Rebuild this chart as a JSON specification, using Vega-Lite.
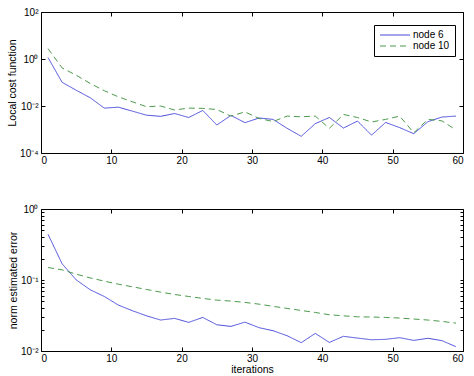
{
  "$schema": "https://vega.github.io/schema/vega-lite/v6.json",
  "padding": {"left": 7, "top": 6, "right": 5, "bottom": 2},
  "background": "white",
  "config": {
    "font": "Liberation Sans",
    "view": {"stroke": "black", "strokeWidth": 1},
    "axis": {"grid": false, "domain": false, "tickColor": "black", "tickSize": -4, "labelColor": "black", "labelFontSize": 10, "titleFontSize": 10.5, "titleFontWeight": "normal", "titleColor": "black", "labelFont": "Liberation Sans", "titleFont": "Liberation Sans"},
    "legend": {"strokeColor": "black", "fillColor": "white", "padding": 5, "labelFontSize": 10, "labelFont": "Liberation Sans", "symbolType": "M-1,0H6.5", "symbolSize": 64, "symbolStrokeWidth": 1.2, "rowPadding": 1, "labelOffset": 24}
  },
  "datasets": {
    "top": [
      {"iteration": 1, "node": "node 6", "value": 1.15},
      {"iteration": 3, "node": "node 6", "value": 0.102},
      {"iteration": 5, "node": "node 6", "value": 0.0468},
      {"iteration": 7, "node": "node 6", "value": 0.0224},
      {"iteration": 9, "node": "node 6", "value": 0.00813},
      {"iteration": 11, "node": "node 6", "value": 0.00891},
      {"iteration": 13, "node": "node 6", "value": 0.00603},
      {"iteration": 15, "node": "node 6", "value": 0.00407},
      {"iteration": 17, "node": "node 6", "value": 0.00363},
      {"iteration": 19, "node": "node 6", "value": 0.00479},
      {"iteration": 21, "node": "node 6", "value": 0.00324},
      {"iteration": 23, "node": "node 6", "value": 0.00646},
      {"iteration": 25, "node": "node 6", "value": 0.00155},
      {"iteration": 27, "node": "node 6", "value": 0.00398},
      {"iteration": 29, "node": "node 6", "value": 0.00195},
      {"iteration": 31, "node": "node 6", "value": 0.00309},
      {"iteration": 33, "node": "node 6", "value": 0.00269},
      {"iteration": 35, "node": "node 6", "value": 0.00112},
      {"iteration": 37, "node": "node 6", "value": 0.000513},
      {"iteration": 39, "node": "node 6", "value": 0.00178},
      {"iteration": 41, "node": "node 6", "value": 0.00324},
      {"iteration": 43, "node": "node 6", "value": 0.00115},
      {"iteration": 45, "node": "node 6", "value": 0.00229},
      {"iteration": 47, "node": "node 6", "value": 0.000575},
      {"iteration": 49, "node": "node 6", "value": 0.002},
      {"iteration": 51, "node": "node 6", "value": 0.0012},
      {"iteration": 53, "node": "node 6", "value": 0.000661},
      {"iteration": 55, "node": "node 6", "value": 0.00214},
      {"iteration": 57, "node": "node 6", "value": 0.00339},
      {"iteration": 59, "node": "node 6", "value": 0.00372},
      {"iteration": 1, "node": "node 10", "value": 2.75},
      {"iteration": 3, "node": "node 10", "value": 0.417},
      {"iteration": 5, "node": "node 10", "value": 0.204},
      {"iteration": 7, "node": "node 10", "value": 0.0912},
      {"iteration": 9, "node": "node 10", "value": 0.0447},
      {"iteration": 11, "node": "node 10", "value": 0.0245},
      {"iteration": 13, "node": "node 10", "value": 0.0151},
      {"iteration": 15, "node": "node 10", "value": 0.00933},
      {"iteration": 17, "node": "node 10", "value": 0.01},
      {"iteration": 19, "node": "node 10", "value": 0.00676},
      {"iteration": 21, "node": "node 10", "value": 0.00813},
      {"iteration": 23, "node": "node 10", "value": 0.00794},
      {"iteration": 25, "node": "node 10", "value": 0.00708},
      {"iteration": 27, "node": "node 10", "value": 0.00372},
      {"iteration": 29, "node": "node 10", "value": 0.00562},
      {"iteration": 31, "node": "node 10", "value": 0.00295},
      {"iteration": 33, "node": "node 10", "value": 0.00219},
      {"iteration": 35, "node": "node 10", "value": 0.00372},
      {"iteration": 37, "node": "node 10", "value": 0.00347},
      {"iteration": 39, "node": "node 10", "value": 0.00372},
      {"iteration": 41, "node": "node 10", "value": 0.00112},
      {"iteration": 43, "node": "node 10", "value": 0.00437},
      {"iteration": 45, "node": "node 10", "value": 0.00324},
      {"iteration": 47, "node": "node 10", "value": 0.00209},
      {"iteration": 49, "node": "node 10", "value": 0.00269},
      {"iteration": 51, "node": "node 10", "value": 0.00372},
      {"iteration": 53, "node": "node 10", "value": 0.000724},
      {"iteration": 55, "node": "node 10", "value": 0.00269},
      {"iteration": 57, "node": "node 10", "value": 0.00234},
      {"iteration": 59, "node": "node 10", "value": 0.000955}
    ],
    "bottom": [
      {"iteration": 1, "node": "node 6", "value": 0.441},
      {"iteration": 3, "node": "node 6", "value": 0.169},
      {"iteration": 5, "node": "node 6", "value": 0.1005},
      {"iteration": 7, "node": "node 6", "value": 0.0728},
      {"iteration": 9, "node": "node 6", "value": 0.0586},
      {"iteration": 11, "node": "node 6", "value": 0.0443},
      {"iteration": 13, "node": "node 6", "value": 0.0369},
      {"iteration": 15, "node": "node 6", "value": 0.0313},
      {"iteration": 17, "node": "node 6", "value": 0.0273},
      {"iteration": 19, "node": "node 6", "value": 0.0288},
      {"iteration": 21, "node": "node 6", "value": 0.0253},
      {"iteration": 23, "node": "node 6", "value": 0.0297},
      {"iteration": 25, "node": "node 6", "value": 0.0234},
      {"iteration": 27, "node": "node 6", "value": 0.0222},
      {"iteration": 29, "node": "node 6", "value": 0.0255},
      {"iteration": 31, "node": "node 6", "value": 0.0213},
      {"iteration": 33, "node": "node 6", "value": 0.0193},
      {"iteration": 35, "node": "node 6", "value": 0.0164},
      {"iteration": 37, "node": "node 6", "value": 0.0131},
      {"iteration": 39, "node": "node 6", "value": 0.0177},
      {"iteration": 41, "node": "node 6", "value": 0.0132},
      {"iteration": 43, "node": "node 6", "value": 0.0161},
      {"iteration": 45, "node": "node 6", "value": 0.0152},
      {"iteration": 47, "node": "node 6", "value": 0.0144},
      {"iteration": 49, "node": "node 6", "value": 0.0146},
      {"iteration": 51, "node": "node 6", "value": 0.0154},
      {"iteration": 53, "node": "node 6", "value": 0.0141},
      {"iteration": 55, "node": "node 6", "value": 0.0151},
      {"iteration": 57, "node": "node 6", "value": 0.014},
      {"iteration": 59, "node": "node 6", "value": 0.0115},
      {"iteration": 1, "node": "node 10", "value": 0.15},
      {"iteration": 3, "node": "node 10", "value": 0.139},
      {"iteration": 5, "node": "node 10", "value": 0.121},
      {"iteration": 7, "node": "node 10", "value": 0.107},
      {"iteration": 9, "node": "node 10", "value": 0.0964},
      {"iteration": 11, "node": "node 10", "value": 0.0873},
      {"iteration": 13, "node": "node 10", "value": 0.0802},
      {"iteration": 15, "node": "node 10", "value": 0.0736},
      {"iteration": 17, "node": "node 10", "value": 0.0675},
      {"iteration": 19, "node": "node 10", "value": 0.0625},
      {"iteration": 21, "node": "node 10", "value": 0.0586},
      {"iteration": 23, "node": "node 10", "value": 0.055},
      {"iteration": 25, "node": "node 10", "value": 0.0521},
      {"iteration": 27, "node": "node 10", "value": 0.0505},
      {"iteration": 29, "node": "node 10", "value": 0.0483},
      {"iteration": 31, "node": "node 10", "value": 0.0457},
      {"iteration": 33, "node": "node 10", "value": 0.0425},
      {"iteration": 35, "node": "node 10", "value": 0.0398},
      {"iteration": 37, "node": "node 10", "value": 0.0372},
      {"iteration": 39, "node": "node 10", "value": 0.0349},
      {"iteration": 41, "node": "node 10", "value": 0.0324},
      {"iteration": 43, "node": "node 10", "value": 0.0313},
      {"iteration": 45, "node": "node 10", "value": 0.0303},
      {"iteration": 47, "node": "node 10", "value": 0.0301},
      {"iteration": 49, "node": "node 10", "value": 0.0297},
      {"iteration": 51, "node": "node 10", "value": 0.0291},
      {"iteration": 53, "node": "node 10", "value": 0.0282},
      {"iteration": 55, "node": "node 10", "value": 0.0273},
      {"iteration": 57, "node": "node 10", "value": 0.0261},
      {"iteration": 59, "node": "node 10", "value": 0.0247}
    ]
  },
  "vconcat": [
    {
      "width": 422,
      "height": 141,
      "data": {"name": "top"},
      "layer": [
        {
          "mark": {"type": "line", "strokeWidth": 1},
          "encoding": {
            "x": {"field": "iteration", "type": "quantitative", "scale": {"domain": [0, 60], "nice": false}, "axis": {"orient": "bottom", "values": [0, 10, 20, 30, 40, 50, 60], "title": null, "labelPadding": 6}},
            "y": {"field": "value", "type": "quantitative", "scale": {"type": "log", "domain": [0.0001, 100], "nice": false}, "axis": {"orient": "left", "values": [0.0001, 0.01, 1, 100], "labelExpr": "datum.value > 50 ? '10²' : datum.value > 0.5 ? '10⁰' : datum.value > 0.005 ? '10⁻²' : '10⁻⁴'", "title": "Local cost function", "labelPadding": 7, "titlePadding": 2}},
            "color": {"field": "node", "type": "nominal", "scale": {"domain": ["node 6", "node 10"], "range": ["#4b4bdc", "#4c9a4c"]}, "legend": {"title": null, "orient": "none", "legendX": 333, "legendY": 13}},
            "strokeDash": {"field": "node", "type": "nominal", "scale": {"domain": ["node 6", "node 10"], "range": [[1, 0], [6, 4]]}, "legend": {"title": null, "orient": "none", "legendX": 333, "legendY": 13}}
          }
        },
        {
          "mark": {"type": "line", "strokeOpacity": 0},
          "encoding": {
            "x": {"field": "iteration", "type": "quantitative", "axis": {"orient": "top", "values": [0, 10, 20, 30, 40, 50, 60], "labels": false, "title": null}},
            "y": {"field": "value", "type": "quantitative", "axis": {"orient": "right", "values": [0.0001, 0.01, 1, 100], "labels": false, "title": null}},
            "detail": {"field": "node"}
          }
        }
      ],
      "resolve": {"axis": {"x": "independent", "y": "independent"}}
    },
    {
      "width": 422,
      "height": 142,
      "data": {"name": "bottom"},
      "layer": [
        {
          "mark": {"type": "line", "strokeWidth": 1},
          "encoding": {
            "x": {"field": "iteration", "type": "quantitative", "scale": {"domain": [0, 60], "nice": false}, "axis": {"orient": "bottom", "values": [0, 10, 20, 30, 40, 50, 60], "title": "iterations", "labelPadding": 6, "titlePadding": 1}},
            "y": {"field": "value", "type": "quantitative", "scale": {"type": "log", "domain": [0.01, 1], "nice": false}, "axis": {"orient": "left", "values": [0.01, 0.02, 0.03, 0.04, 0.05, 0.06, 0.07, 0.08, 0.09, 0.1, 0.2, 0.3, 0.4, 0.5, 0.6, 0.7, 0.8, 0.9, 1], "labelExpr": "abs(datum.value - 1) < 0.000001 ? '10⁰' : abs(datum.value - 0.1) < 0.000001 ? '10⁻¹' : abs(datum.value - 0.01) < 0.000001 ? '10⁻²' : ''", "tickSize": -3, "title": "norm estimated error", "labelPadding": 6, "titlePadding": 2}},
            "color": {"field": "node", "type": "nominal", "scale": {"domain": ["node 6", "node 10"], "range": ["#4b4bdc", "#4c9a4c"]}, "legend": null},
            "strokeDash": {"field": "node", "type": "nominal", "scale": {"domain": ["node 6", "node 10"], "range": [[1, 0], [6, 4]]}, "legend": null}
          }
        },
        {
          "mark": {"type": "line", "strokeOpacity": 0},
          "encoding": {
            "x": {"field": "iteration", "type": "quantitative", "axis": {"orient": "top", "values": [0, 10, 20, 30, 40, 50, 60], "labels": false, "title": null}},
            "y": {"field": "value", "type": "quantitative", "axis": {"orient": "right", "values": [0.01, 0.02, 0.03, 0.04, 0.05, 0.06, 0.07, 0.08, 0.09, 0.1, 0.2, 0.3, 0.4, 0.5, 0.6, 0.7, 0.8, 0.9, 1], "labels": false, "tickSize": -3, "title": null}},
            "detail": {"field": "node"}
          }
        }
      ],
      "resolve": {"axis": {"x": "independent", "y": "independent"}}
    }
  ],
  "spacing": 37,
  "resolve": {"legend": {"color": "independent", "strokeDash": "independent"}}
}
